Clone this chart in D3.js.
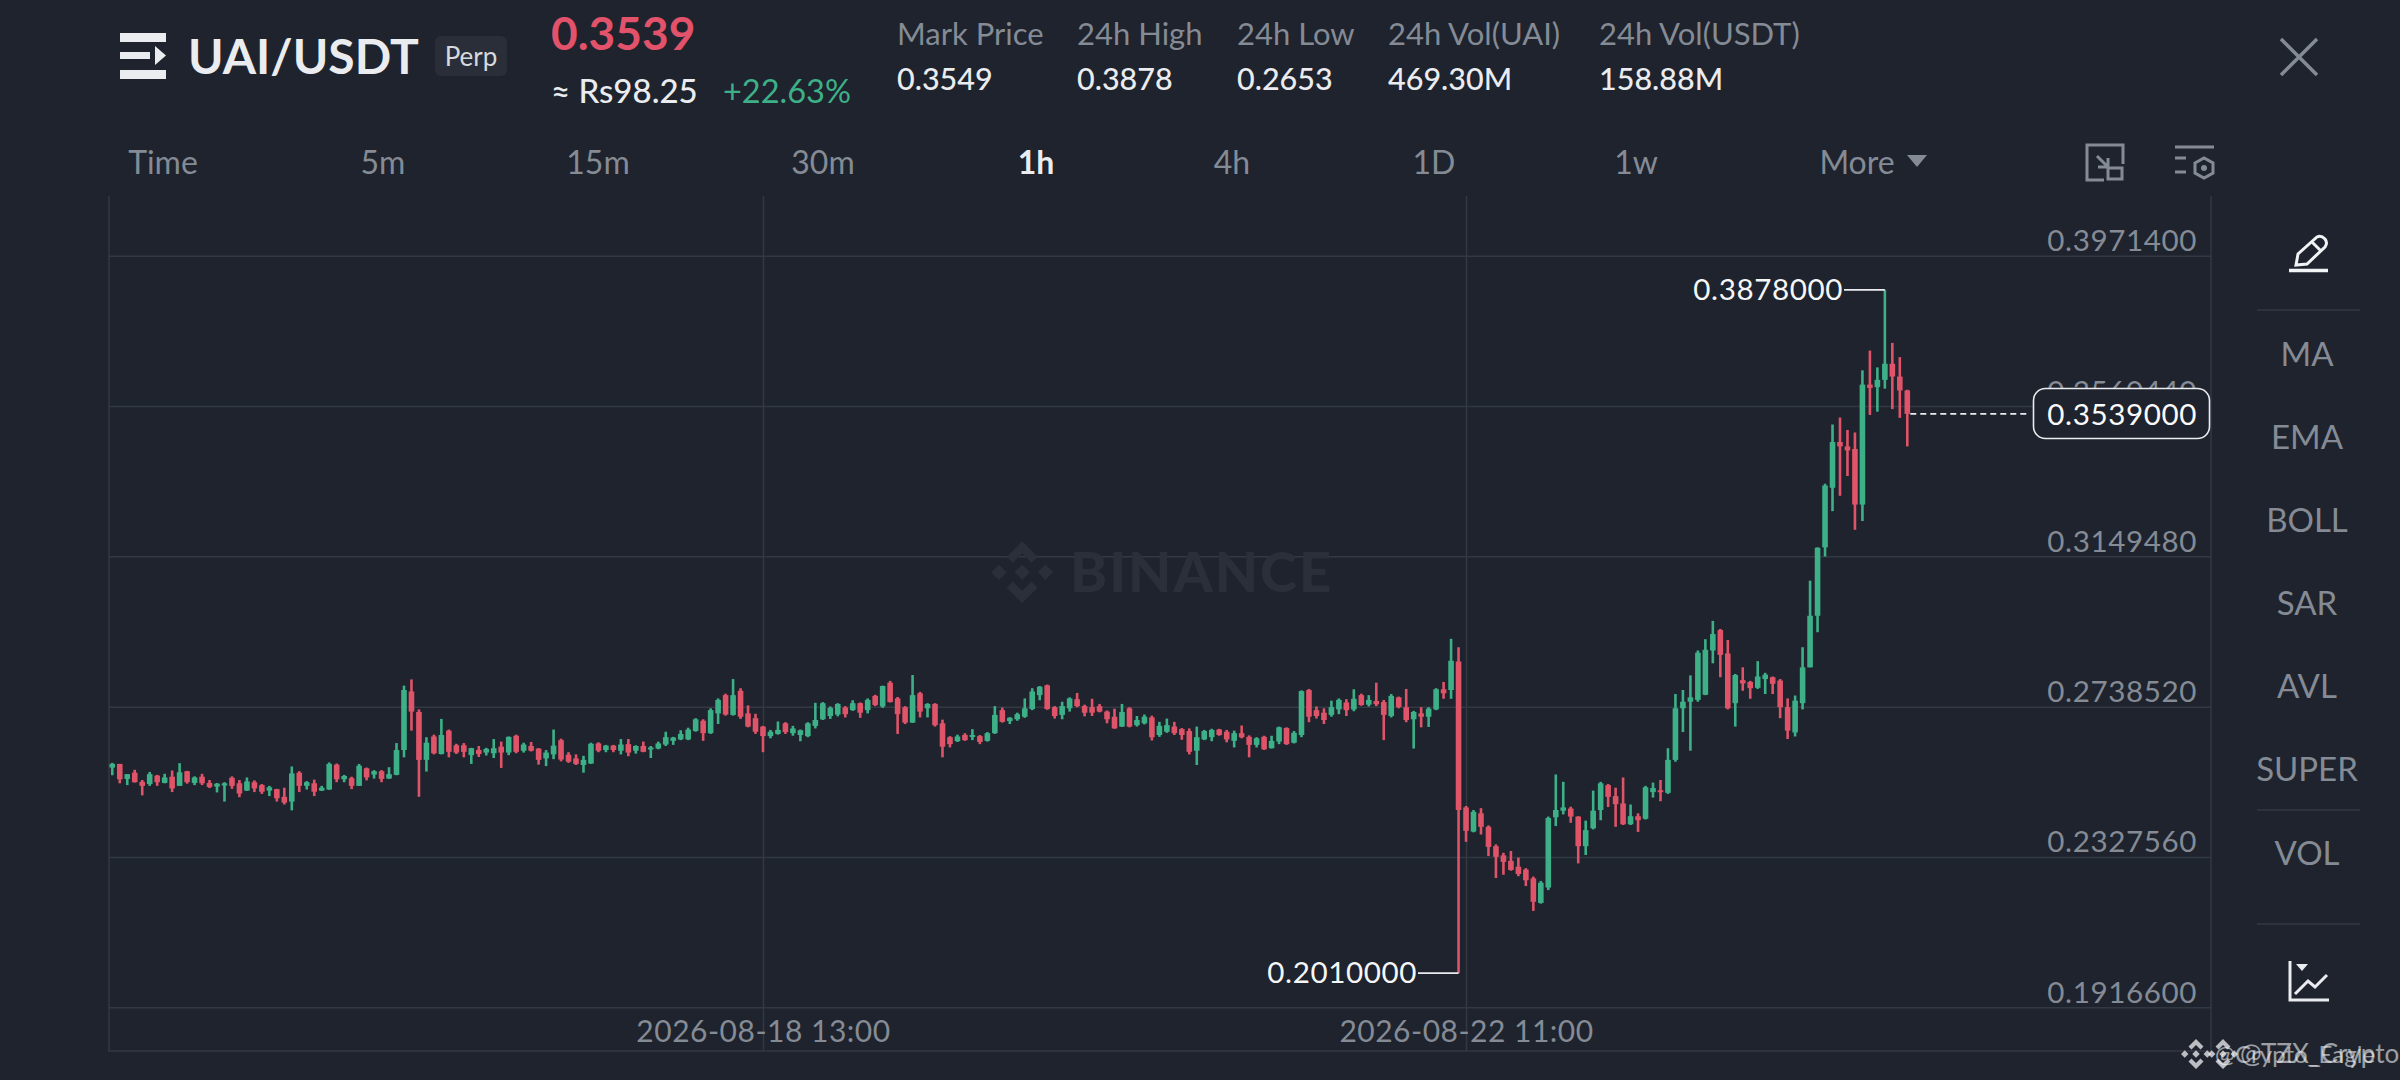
<!DOCTYPE html>
<html>
<head>
<meta charset="utf-8">
<script src="https://cdn.jsdelivr.net/npm/d3@7"></script>
<style>
  html, body { margin: 0; padding: 0; background: #1e232d; }
  svg { display: block; }
  text { font-family: Lato, "Open Sans", sans-serif; }
</style>
</head>
<body>
<div id="chart"></div>
<script>
// hourly candles
const opens = [0.2572,0.2582,0.2541,0.2558,0.2533,0.2527,0.2550,0.2530,0.2547,0.2522,0.2562,0.2530,0.2547,0.2530,0.2520,0.2523,0.2544,0.2529,0.2509,0.2532,0.2524,0.2509,0.2513,0.2492,0.2479,0.2558,0.2522,0.2529,0.2509,0.2512,0.2580,0.2540,0.2543,0.2522,0.2570,0.2553,0.2562,0.2542,0.2552,0.2620,0.2780,0.2724,0.2593,0.2657,0.2609,0.2673,0.2633,0.2633,0.2606,0.2620,0.2613,0.2611,0.2629,0.2613,0.2659,0.2618,0.2631,0.2624,0.2597,0.2608,0.2647,0.2607,0.2597,0.2579,0.2583,0.2638,0.2620,0.2632,0.2618,0.2636,0.2618,0.2631,0.2622,0.2624,0.2635,0.2645,0.2649,0.2649,0.2672,0.2700,0.2666,0.2720,0.2770,0.2716,0.2782,0.2720,0.2707,0.2684,0.2658,0.2664,0.2693,0.2666,0.2661,0.2658,0.2686,0.2704,0.2713,0.2717,0.2736,0.2729,0.2748,0.2729,0.2768,0.2739,0.2804,0.2761,0.2737,0.2695,0.2775,0.2734,0.2746,0.2693,0.2655,0.2644,0.2661,0.2656,0.2658,0.2645,0.2666,0.2729,0.2699,0.2704,0.2711,0.2732,0.2770,0.2797,0.2737,0.2716,0.2734,0.2759,0.2740,0.2737,0.2740,0.2725,0.2711,0.2684,0.2734,0.2688,0.2693,0.2709,0.2661,0.2670,0.2684,0.2677,0.2672,0.2618,0.2649,0.2655,0.2676,0.2670,0.2645,0.2666,0.2656,0.2634,0.2656,0.2625,0.2643,0.2680,0.2640,0.2661,0.2784,0.2729,0.2722,0.2716,0.2731,0.2750,0.2731,0.2770,0.2744,0.2754,0.2751,0.2713,0.2764,0.2737,0.2704,0.2720,0.2711,0.2731,0.2786,0.2784,0.2862,0.2463,0.2397,0.2447,0.2410,0.2357,0.2332,0.2317,0.2301,0.2293,0.2269,0.2202,0.2244,0.2436,0.2454,0.2460,0.2438,0.2357,0.2406,0.2456,0.2524,0.2494,0.2474,0.2417,0.2439,0.2432,0.2505,0.2510,0.2503,0.2593,0.2734,0.2752,0.2757,0.2771,0.2892,0.2948,0.2884,0.2748,0.2811,0.2806,0.2790,0.2814,0.2819,0.2810,0.2737,0.2668,0.2748,0.2846,0.2987,0.3174,0.3337,0.3462,0.3450,0.3443,0.3291,0.3619,0.3612,0.3632,0.3676,0.3641,0.3603];
const highs = [0.2585,0.2582,0.2554,0.2566,0.2538,0.2560,0.2552,0.2555,0.2564,0.2584,0.2563,0.2548,0.2555,0.2538,0.2530,0.2532,0.2548,0.2538,0.2545,0.2537,0.2527,0.2522,0.2514,0.2517,0.2575,0.2562,0.2535,0.2539,0.2522,0.2586,0.2583,0.2552,0.2547,0.2582,0.2572,0.2565,0.2565,0.2573,0.2639,0.2796,0.2813,0.2731,0.2655,0.2662,0.2705,0.2676,0.2637,0.2639,0.2626,0.2631,0.2626,0.2650,0.2643,0.2657,0.2662,0.2640,0.2642,0.2625,0.2620,0.2676,0.2651,0.2614,0.2608,0.2604,0.2640,0.2641,0.2634,0.2634,0.2650,0.2650,0.2633,0.2643,0.2631,0.2643,0.2670,0.2656,0.2674,0.2681,0.2707,0.2704,0.2734,0.2761,0.2774,0.2814,0.2789,0.2742,0.2719,0.2686,0.2675,0.2698,0.2696,0.2686,0.2676,0.2696,0.2749,0.2751,0.2739,0.2748,0.2740,0.2756,0.2750,0.2761,0.2771,0.2796,0.2809,0.2765,0.2740,0.2825,0.2779,0.2748,0.2748,0.2703,0.2658,0.2662,0.2666,0.2677,0.2661,0.2669,0.2740,0.2736,0.2710,0.2722,0.2761,0.2789,0.2795,0.2799,0.2740,0.2752,0.2764,0.2776,0.2744,0.2760,0.2746,0.2728,0.2733,0.2746,0.2737,0.2713,0.2717,0.2714,0.2697,0.2706,0.2697,0.2680,0.2679,0.2684,0.2675,0.2678,0.2678,0.2675,0.2673,0.2687,0.2660,0.2655,0.2659,0.2659,0.2684,0.2682,0.2672,0.2783,0.2787,0.2739,0.2734,0.2755,0.2761,0.2759,0.2786,0.2774,0.2770,0.2804,0.2757,0.2773,0.2766,0.2787,0.2727,0.2737,0.2737,0.2789,0.2806,0.2924,0.2901,0.2467,0.2456,0.2461,0.2414,0.2362,0.2339,0.2344,0.2326,0.2297,0.2274,0.2262,0.2438,0.2553,0.2533,0.2465,0.2439,0.2427,0.2509,0.2533,0.2527,0.2517,0.2545,0.2471,0.2447,0.2522,0.2531,0.2538,0.2625,0.2773,0.2784,0.2824,0.2892,0.2923,0.2973,0.2951,0.2921,0.2828,0.2846,0.2809,0.2863,0.2831,0.2821,0.2814,0.2761,0.2769,0.2901,0.3083,0.3174,0.3348,0.3510,0.3529,0.3495,0.3488,0.3658,0.3712,0.3666,0.3878,0.3733,0.3694,0.3605];
const lows = [0.2551,0.2529,0.2524,0.2531,0.2496,0.2522,0.2522,0.2529,0.2505,0.2522,0.2528,0.2524,0.2524,0.2516,0.2504,0.2479,0.2514,0.2491,0.2508,0.2505,0.2500,0.2494,0.2479,0.2471,0.2455,0.2505,0.2512,0.2494,0.2508,0.2511,0.2532,0.2532,0.2513,0.2522,0.2537,0.2542,0.2532,0.2541,0.2551,0.2600,0.2673,0.2492,0.2561,0.2608,0.2608,0.2600,0.2609,0.2600,0.2582,0.2601,0.2605,0.2598,0.2571,0.2606,0.2611,0.2613,0.2616,0.2580,0.2576,0.2595,0.2589,0.2585,0.2579,0.2558,0.2582,0.2614,0.2614,0.2614,0.2608,0.2603,0.2610,0.2614,0.2598,0.2622,0.2631,0.2634,0.2647,0.2647,0.2670,0.2645,0.2664,0.2691,0.2714,0.2714,0.2705,0.2682,0.2664,0.2614,0.2652,0.2662,0.2664,0.2659,0.2644,0.2655,0.2679,0.2702,0.2705,0.2712,0.2709,0.2727,0.2708,0.2720,0.2740,0.2735,0.2750,0.2664,0.2691,0.2694,0.2709,0.2709,0.2684,0.2600,0.2627,0.2642,0.2645,0.2647,0.2636,0.2643,0.2664,0.2695,0.2691,0.2700,0.2708,0.2729,0.2756,0.2730,0.2706,0.2704,0.2725,0.2737,0.2712,0.2713,0.2723,0.2693,0.2678,0.2683,0.2682,0.2684,0.2690,0.2646,0.2656,0.2667,0.2661,0.2648,0.2608,0.2579,0.2647,0.2644,0.2659,0.2641,0.2627,0.2652,0.2600,0.2627,0.2620,0.2624,0.2636,0.2634,0.2638,0.2655,0.2696,0.2706,0.2691,0.2711,0.2718,0.2713,0.2726,0.2741,0.2739,0.2740,0.2647,0.2709,0.2734,0.2696,0.2624,0.2682,0.2683,0.2729,0.2760,0.2760,0.2010,0.2369,0.2395,0.2389,0.2330,0.2270,0.2279,0.2290,0.2275,0.2248,0.2180,0.2200,0.2237,0.2412,0.2444,0.2421,0.2310,0.2333,0.2403,0.2428,0.2464,0.2410,0.2415,0.2415,0.2396,0.2430,0.2490,0.2480,0.2500,0.2588,0.2669,0.2618,0.2752,0.2770,0.2857,0.2819,0.2731,0.2684,0.2782,0.2760,0.2787,0.2773,0.2773,0.2707,0.2650,0.2657,0.2731,0.2846,0.2942,0.3149,0.3273,0.3315,0.3369,0.3222,0.3246,0.3536,0.3545,0.3608,0.3552,0.3528,0.3450];
const closes = [0.2582,0.2540,0.2554,0.2532,0.2522,0.2554,0.2532,0.2545,0.2515,0.2559,0.2532,0.2545,0.2529,0.2519,0.2528,0.2529,0.2522,0.2501,0.2534,0.2515,0.2506,0.2518,0.2488,0.2476,0.2556,0.2522,0.2532,0.2506,0.2517,0.2582,0.2540,0.2549,0.2522,0.2577,0.2545,0.2562,0.2541,0.2554,0.2620,0.2784,0.2725,0.2593,0.2640,0.2611,0.2661,0.2615,0.2613,0.2615,0.2625,0.2609,0.2623,0.2625,0.2613,0.2656,0.2615,0.2635,0.2618,0.2593,0.2613,0.2632,0.2594,0.2588,0.2582,0.2593,0.2637,0.2618,0.2632,0.2620,0.2635,0.2613,0.2631,0.2615,0.2627,0.2638,0.2655,0.2654,0.2664,0.2676,0.2704,0.2666,0.2729,0.2757,0.2717,0.2770,0.2711,0.2684,0.2670,0.2658,0.2670,0.2675,0.2669,0.2679,0.2674,0.2693,0.2702,0.2748,0.2735,0.2746,0.2718,0.2748,0.2722,0.2757,0.2743,0.2795,0.2751,0.2718,0.2695,0.2770,0.2725,0.2746,0.2688,0.2629,0.2636,0.2657,0.2647,0.2661,0.2642,0.2666,0.2716,0.2697,0.2708,0.2718,0.2734,0.2780,0.2793,0.2732,0.2713,0.2740,0.2761,0.2740,0.2722,0.2722,0.2725,0.2704,0.2679,0.2724,0.2684,0.2702,0.2711,0.2655,0.2686,0.2688,0.2666,0.2661,0.2615,0.2655,0.2672,0.2675,0.2661,0.2649,0.2666,0.2655,0.2634,0.2652,0.2622,0.2645,0.2682,0.2636,0.2667,0.2781,0.2711,0.2713,0.2702,0.2737,0.2757,0.2729,0.2760,0.2743,0.2757,0.2745,0.2716,0.2768,0.2737,0.2702,0.2724,0.2711,0.2733,0.2786,0.2775,0.2864,0.2456,0.2399,0.2451,0.2410,0.2355,0.2328,0.2314,0.2292,0.2281,0.2264,0.2205,0.2257,0.2434,0.2456,0.2463,0.2438,0.2357,0.2401,0.2454,0.2529,0.2492,0.2472,0.2417,0.2439,0.2428,0.2518,0.2516,0.2505,0.2593,0.2734,0.2752,0.2764,0.2886,0.2894,0.2937,0.2880,0.2734,0.2825,0.2802,0.2789,0.2821,0.2826,0.2801,0.2737,0.2673,0.2755,0.2846,0.2987,0.3173,0.3343,0.3462,0.3450,0.3439,0.3291,0.3619,0.3610,0.3632,0.3676,0.3641,0.3603,0.3539];

const yTicks = [0.19166, 0.232756, 0.273852, 0.314948, 0.356044, 0.39714];
const xTickLabels = ["2026-08-18 13:00", "2026-08-22 11:00"];
const priceHigh = 0.3878, priceLow = 0.2010, priceLast = 0.3539;

const tabLabels = ["Time", "5m", "15m", "30m", "1h", "4h", "1D", "1w"];
const sideLabels = ["MA", "EMA", "BOLL", "SAR", "AVL", "SUPER", "VOL"];
const statLabels = ["Mark Price", "24h High", "24h Low", "24h Vol(UAI)", "24h Vol(USDT)"];
const statValues = ["0.3549", "0.3878", "0.2653", "469.30M", "158.88M"];

const bg = "#1e232d", grid = "#333943", muted = "#858b95", light = "#eaecef";
const green = "#3db088", red = "#df5469";

const svg = d3.select("#chart").append("svg")
    .attr("width", 2400)
    .attr("height", 1080);

svg.append("rect").attr("width", 2400).attr("height", 1080).attr("fill", bg);

// plot frame
const plotLeft = 109, plotRight = 2211, plotTop = 196, plotBottom = 1051;

// Scales _____________________________________
const parseTime = d3.utcParse("%Y-%m-%d %H:%M");
const formatTime = d3.utcFormat("%Y-%m-%d %H:%M");
const firstHour = d3.utcHour.offset(parseTime(xTickLabels[0]), -87);
const times = opens.map((d, i) => d3.utcHour.offset(firstHour, i));

const x = d3.scaleUtc()
    .domain(d3.extent(times))
    .range([112.3, 1907.3]);

const y = d3.scaleLinear()
    .domain([yTicks[0], yTicks[yTicks.length - 1]])
    .range([1007.3, 255.7]);

// Grid _____________________________________
const yGrid = svg.append("g")
    .attr("transform", `translate(${plotRight},0)`)
    .call(d3.axisLeft(y).tickValues(yTicks).tickSize(plotRight - plotLeft).tickFormat(""));
yGrid.select(".domain").remove();
yGrid.selectAll("line").attr("stroke", grid).attr("stroke-width", 1.5);

const xGrid = svg.append("g")
    .attr("transform", `translate(0,${plotBottom})`)
    .call(d3.axisTop(x).tickValues(xTickLabels.map(parseTime)).tickSize(plotBottom - plotTop).tickFormat(""));
xGrid.select(".domain").remove();
xGrid.selectAll("line").attr("stroke", grid).attr("stroke-width", 1.5);

// frame lines
svg.append("path")
    .attr("d", `M${plotLeft},${plotTop}V${plotBottom}H${plotRight}V${plotTop}`)
    .attr("fill", "none")
    .attr("stroke", grid)
    .attr("stroke-width", 1.5);

// Watermark _____________________________________
const logoPath = "M12 2L17 7L15 9L12 6L9 9L7 7ZM12 22L7 17L9 15L12 18L15 15L17 17ZM2 12L4.5 9.5L7 12L4.5 14.5ZM22 12L19.5 14.5L17 12L19.5 9.5ZM12 9.5L14.5 12L12 14.5L9.5 12Z";

svg.append("path")
    .attr("d", logoPath)
    .attr("transform", "translate(985,535) scale(3.1)")
    .attr("fill", "#2a2f3a");

svg.append("text")
    .text("BINANCE")
    .attr("x", 1070)
    .attr("y", 592)
    .attr("font-size", 56)
    .attr("font-weight", 900)
    .attr("letter-spacing", 2)
    .attr("fill", "#2a2f3a");

// Candles _____________________________________
const candles = svg.append("g")
    .selectAll("g")
    .data(times)
    .join("g")
      .attr("fill", (d, i) => closes[i] >= opens[i] ? green : red);

candles.append("rect")
    .attr("x", d => x(d) - 1.3)
    .attr("width", 2.6)
    .attr("y", (d, i) => y(highs[i]))
    .attr("height", (d, i) => y(lows[i]) - y(highs[i]));

candles.append("rect")
    .attr("x", d => x(d) - 2.8)
    .attr("width", 5.6)
    .attr("y", (d, i) => y(Math.max(opens[i], closes[i])))
    .attr("height", (d, i) => Math.max(2, Math.abs(y(opens[i]) - y(closes[i]))));

// Axes _____________________________________
const yAxis = svg.append("g")
    .attr("transform", "translate(2197,0)")
    .call(d3.axisLeft(y).tickValues(yTicks).tickSize(0).tickPadding(0).tickFormat(d3.format(".7f")));
yAxis.select(".domain").remove();
yAxis.selectAll("text")
    .attr("y", -14.5)
    .attr("font-family", "Lato")
    .attr("font-size", 29.6)
    .attr("letter-spacing", 0.6)
    .attr("fill", muted);

const xAxis = svg.append("g")
    .attr("transform", "translate(0,1031)")
    .call(d3.axisBottom(x).tickValues(xTickLabels.map(parseTime)).tickSize(0).tickPadding(0).tickFormat(formatTime));
xAxis.select(".domain").remove();
xAxis.selectAll("text")
    .attr("dy", "0.35em")
    .attr("y", 0)
    .attr("font-family", "Lato")
    .attr("font-size", 30)
    .attr("letter-spacing", 0.5)
    .attr("fill", muted);

// High, low, last price _____________________________________
const highX = x(times[highs.indexOf(priceHigh)]);
const lowX = x(times[lows.indexOf(priceLow)]);
const lastX = x(times[times.length - 1]);

svg.append("path")
    .attr("d", `M1844,${y(priceHigh)}H${highX}M1418,${y(priceLow)}H${lowX}`)
    .attr("fill", "none")
    .attr("stroke", light)
    .attr("stroke-width", 1.8);

svg.selectAll("extremes")
    .data([[1843, priceHigh], [1417, priceLow]])
    .join("text")
      .text(d => d3.format(".7f")(d[1]))
      .attr("x", d => d[0])
      .attr("y", d => y(d[1]))
      .attr("dy", "0.35em")
      .attr("text-anchor", "end")
      .attr("font-size", 29.6)
      .attr("letter-spacing", 0.6)
      .attr("fill", "#f5f6f7");

svg.append("line")
    .attr("x1", lastX + 3)
    .attr("x2", 2030)
    .attr("y1", y(priceLast))
    .attr("y2", y(priceLast))
    .attr("stroke", light)
    .attr("stroke-width", 1.6)
    .attr("stroke-dasharray", "6,4");

svg.append("rect")
    .attr("x", 2033.5)
    .attr("y", 388.5)
    .attr("width", 176)
    .attr("height", 50)
    .attr("rx", 12)
    .attr("fill", bg)
    .attr("stroke", light)
    .attr("stroke-width", 1.6);

svg.append("text")
    .text(d3.format(".7f")(priceLast))
    .attr("x", 2197)
    .attr("y", 415)
    .attr("dy", "0.35em")
    .attr("text-anchor", "end")
    .attr("font-size", 29.6)
    .attr("letter-spacing", 0.6)
    .attr("fill", "#fafafa");

// Header _____________________________________
svg.append("path")
    .attr("d", "M120,33H166V42H120ZM120,52H150V59H120ZM155,46L166,55.5L155,65ZM120,70H166V79H120Z")
    .attr("fill", light);

svg.append("text").text("UAI/USDT")
    .attr("x", 188).attr("y", 74)
    .attr("font-size", 48).attr("font-weight", 700).attr("fill", light);

svg.append("rect")
    .attr("x", 435).attr("y", 36).attr("width", 72).attr("height", 40).attr("rx", 6)
    .attr("fill", "#292e38");
svg.append("text").text("Perp")
    .attr("x", 471).attr("y", 66)
    .attr("text-anchor", "middle")
    .attr("font-size", 26).attr("fill", "#d6d9dd");

svg.append("text").text("0.3539")
    .attr("x", 551).attr("y", 50)
    .attr("font-size", 46).attr("font-weight", 700).attr("fill", "#e2526a");
svg.append("text").text("≈ Rs98.25")
    .attr("x", 551).attr("y", 103)
    .attr("font-size", 33).attr("font-weight", 500).attr("fill", light);
svg.append("text").text("+22.63%")
    .attr("x", 723).attr("y", 103)
    .attr("font-size", 32.5).attr("fill", green);

const statX = [897, 1077, 1237, 1388, 1599];

svg.selectAll("statLabels")
    .data(statLabels)
    .join("text")
      .text(d => d)
      .attr("x", (d, i) => statX[i])
      .attr("y", 45)
      .attr("font-size", 31)
      .attr("fill", muted);

svg.selectAll("statValues")
    .data(statValues)
    .join("text")
      .text(d => d)
      .attr("x", (d, i) => statX[i])
      .attr("y", 90)
      .attr("font-size", 30.5)
      .attr("font-weight", 500)
      .attr("fill", light);

// close button
svg.append("path")
    .attr("d", "M2281,39L2317,75M2317,39L2281,75")
    .attr("stroke", muted)
    .attr("stroke-width", 3.5)
    .attr("fill", "none");

// Tabs _____________________________________
const tabX = [163, 383, 598, 823, 1036, 1232, 1434, 1636];

svg.selectAll("tabs")
    .data(tabLabels)
    .join("text")
      .text(d => d)
      .attr("x", (d, i) => tabX[i])
      .attr("y", 174)
      .attr("text-anchor", "middle")
      .attr("font-size", 32)
      .attr("font-weight", d => d == "1h" ? 700 : 400)
      .attr("fill", d => d == "1h" ? light : muted);

svg.append("text").text("More")
    .attr("x", 1857).attr("y", 174)
    .attr("text-anchor", "middle")
    .attr("font-size", 32).attr("fill", muted);
svg.append("path")
    .attr("d", "M1907,155H1927L1917,167Z")
    .attr("fill", muted);

// layout icon
svg.append("path")
    .attr("d", "M2123,164V145H2087V180H2104M2097,156L2108,167M2098,167H2108V158")
    .attr("fill", "none").attr("stroke", muted).attr("stroke-width", 3);
svg.append("rect")
    .attr("x", 2108).attr("y", 168).attr("width", 14).attr("height", 11)
    .attr("fill", "none").attr("stroke", muted).attr("stroke-width", 3);

// settings icon
svg.append("path")
    .attr("d", "M2175,147H2214M2175,158H2186M2175,172H2186M2195,163L2204,158L2213,163V173L2204,178L2195,173Z")
    .attr("fill", "none").attr("stroke", muted).attr("stroke-width", 3);
svg.append("circle")
    .attr("cx", 2204).attr("cy", 168).attr("r", 3).attr("fill", muted);

// Side bar _____________________________________
const sideY = [354, 437, 520, 603, 686, 769, 853];

svg.selectAll("sideLabels")
    .data(sideLabels)
    .join("text")
      .text(d => d)
      .attr("x", 2307)
      .attr("y", (d, i) => sideY[i])
      .attr("dy", "0.35em")
      .attr("text-anchor", "middle")
      .attr("font-size", 33)
      .attr("fill", muted);

svg.selectAll("sideRules")
    .data([310, 810, 924])
    .join("line")
      .attr("x1", 2257).attr("x2", 2360)
      .attr("y1", d => d).attr("y2", d => d)
      .attr("stroke", grid).attr("stroke-width", 1.5);

// pencil
svg.append("path")
    .attr("d", "M2296,265L2298,254L2317,237Q2321,235 2325,239Q2328,243 2325,247L2307,264ZM2312,242L2321,251")
    .attr("fill", "none").attr("stroke", "#f2f3f5").attr("stroke-width", 3);
svg.append("line")
    .attr("x1", 2289).attr("x2", 2328).attr("y1", 270.5).attr("y2", 270.5)
    .attr("stroke", "#f2f3f5").attr("stroke-width", 3.5);

// indicator icon
svg.append("path")
    .attr("d", "M2290,961V1000H2329M2295,994L2308,981L2315,987L2327,975")
    .attr("fill", "none").attr("stroke", light).attr("stroke-width", 3);
svg.append("path")
    .attr("d", "M2296,964H2308L2302,971Z")
    .attr("fill", light);

// Overlaid stamps in the corner _____________________________________
const stamps = [[2178, 2215, "@Crypto_Eagle", 24], [2205, 2240, "@TZX_Crypto", 26]];

stamps.forEach(function(s) {
  svg.append("path")
      .attr("d", logoPath)
      .attr("transform", `translate(${s[0]},1036) scale(1.5)`)
      .attr("fill", "#f1f2f4")
      .attr("opacity", 0.75);
  svg.append("text")
      .text(s[2])
      .attr("x", s[1])
      .attr("y", 1063)
      .attr("font-size", s[3])
      .attr("fill", "#f1f2f4")
      .attr("opacity", 0.6);
});
</script>
</body>
</html>
